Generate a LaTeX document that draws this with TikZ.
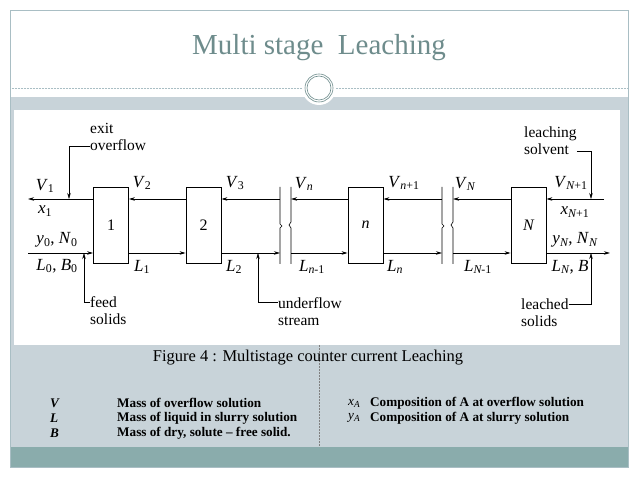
\documentclass[tikz,border=0pt]{standalone}
\usepackage{fontspec}
\setmainfont{Liberation Serif}
\usetikzlibrary{arrows.meta}
\definecolor{panel}{HTML}{C8D3D9}
\definecolor{teal}{HTML}{8AACAC}
\definecolor{titlec}{HTML}{6E8C8C}
\definecolor{frame}{HTML}{A9BEC4}
\newcommand{\vr}[2]{\textit{#1}\textsubscript{#2}}
\begin{document}
\begin{tikzpicture}[x=1pt,y=-1pt,
  box/.style={draw,line width=0.8pt,fill=white,minimum width=35pt,minimum height=76pt,inner sep=0pt,font=\fontsize{16}{16}\selectfont},
  flow/.style={line width=0.8pt,-{Stealth[length=6pt,width=3.5pt]}},
  lead/.style={line width=0.5pt,-{Stealth[length=6pt,width=3.5pt]}},
  lab/.style={font=\fontsize{17}{17}\selectfont,inner sep=0pt},
  txt/.style={font=\fontsize{15.5}{17}\selectfont,inner sep=0pt,align=left},
  leg/.style={font=\fontsize{13.2}{13}\selectfont\bfseries,inner sep=0pt,anchor=west}]
\useasboundingbox (0,0) rectangle (638,478);
\fill[white] (0,0) rectangle (638,478);
\fill[panel] (10,97) rectangle (628,447);
\fill[teal] (10,447) rectangle (628,467);
\draw[frame,line width=0.6pt] (10,10) rectangle (628,467);
\draw[frame,densely dotted,line width=0.5pt] (10,88) -- (628,88);
\fill[white] (14,110) rectangle (620,345);
\draw[gray,densely dotted,line width=0.5pt] (319,345) -- (319,447);
\node[circle,fill=white,minimum size=34pt,inner sep=0pt] (circ) at (319,88) {};
\draw[titlec,line width=0.6pt] (319,88) circle (14);
\draw[titlec,line width=0.6pt] (319,88) circle (12);
\node[text=titlec,font=\fontsize{29}{29}\selectfont] (title) at (319,48) {Multi stage\ \ Leaching};
% boxes
\node[box] (b1) at (111,225) {1};
\node[box] (b2) at (203.5,225) {2};
\node[box] (bn) at (365.5,225) {\itshape n};
\node[box] (bN) at (528.5,225) {\itshape N};
% walls
\coordinate (w1t) at (280,199); \coordinate (w1b) at (280,253);
\coordinate (w2t) at (291,199); \coordinate (w2b) at (291,253);
\coordinate (w3t) at (442,199); \coordinate (w3b) at (442,253);
\coordinate (w4t) at (453,199); \coordinate (w4b) at (453,253);
\draw[line width=0.6pt] (280,187) -- (280,224) -- (282,226) -- (280,228) -- (280,264);
\draw[line width=0.6pt] (291,187) -- (291,222) -- (289,225) -- (291,228) -- (291,264);
\draw[line width=0.6pt] (442,187) -- (442,224) -- (444,226) -- (442,228) -- (442,264);
\draw[line width=0.6pt] (453,187) -- (453,222) -- (451,225) -- (453,228) -- (453,264);
% top flows
\coordinate (vout) at (28,199);
\draw[flow] (b1.west |- vout) -- (vout);
\draw[flow] (b2.west |- w1t) -- (b1.east |- w1t);
\draw[flow] (w1t) -- (b2.east |- w1t);
\draw[flow] (bn.west |- w2t) -- (w2t);
\draw[flow] (w3t) -- (bn.east |- w3t);
\draw[flow] (bN.west |- w4t) -- (w4t);
\coordinate (vin) at (604,199);
\draw[flow] (vin) -- (bN.east |- vin);
% bottom flows
\coordinate (lin) at (28,253);
\draw[flow] (lin) -- (b1.west |- lin);
\draw[flow] (b1.east |- lin) -- (b2.west |- lin);
\draw[flow] (b2.east |- w1b) -- (w1b);
\draw[flow] (w2b) -- (bn.west |- w2b);
\draw[flow] (bn.east |- w3b) -- (w3b);
\draw[flow] (w4b) -- (bN.west |- w4b);
\coordinate (lout) at (610,253);
\draw[flow] (bN.east |- lout) -- (lout);
% leaders
\node[txt,anchor=west] (exit) at (90,137) {exit\\overflow};
\draw[lead] (exit.west |- 0,146) -| (69,199);
\node[txt,anchor=west] (feed) at (90,311) {feed\\solids};
\draw[lead] (feed.west |- 0,302) -| (84,253);
\node[txt,anchor=west] (under) at (278,312) {underflow\\stream};
\draw[lead] (under.west |- 0,302) -| (258,253);
\node[txt,anchor=west] (solv) at (524,141) {leaching\\solvent};
\draw[lead] (solv.east |- 0,151) -| (591,199);
\node[txt,anchor=west] (leach) at (521,313) {leached\\solids};
\draw[lead] (leach.east |- 0,304) -| (591,253);
% labels
\node[lab] (lv1) at (45,186) {\vr{V}{1}};
\node[lab] (lx1) at (45,211) {\vr{x}{1}};
\node[lab] (ly0) at (57,240) {\vr{y}{0}, \vr{N}{0}};
\node[lab] (ll0) at (57,266) {\vr{L}{0}, \vr{B}{0}};
\node[lab] (lv2) at (142,183) {\vr{V}{2}};
\node[lab] (ll1) at (142,267) {\vr{L}{1}};
\node[lab] (lv3) at (235,183) {\vr{V}{3}};
\node[lab] (ll2) at (234,267) {\vr{L}{2}};
\node[lab] (lvn) at (304,184) {\vr{V}{\itshape n}};
\node[lab] (llm) at (312,267) {\vr{L}{\itshape n\upshape{-}1}};
\node[lab] (lvp) at (404,183) {\vr{V}{\itshape n\upshape{+}1}};
\node[lab] (lln) at (395,267) {\vr{L}{\itshape n}};
\node[lab] (lvN) at (465,184) {\vr{V}{\itshape N}};
\node[lab] (llM) at (478,267) {\vr{L}{\itshape N\upshape{-}1}};
\node[lab] (lvP) at (571,183) {\vr{V}{\itshape N\upshape{+}1}};
\node[lab] (lxP) at (575,212) {\vr{x}{\itshape N\upshape{+}1}};
\node[lab] (lyN) at (575,240) {\vr{y}{\itshape N}, \vr{N}{\itshape N}};
\node[lab] (llN) at (570,267) {\vr{L}{\itshape N}, \textit{B}};
% caption and legend
\node[font=\fontsize{16.5}{17}\selectfont] (cap) at (308,358) {Figure 4 : Multistage counter current Leaching};
\node[leg] (k1) at (50,403) {\itshape V};
\node[leg] (k2) at (50,418) {\itshape L};
\node[leg] (k3) at (50,433) {\itshape B};
\node[leg] (d1) at (117,403) {Mass of overflow solution};
\node[leg] (d2) at (117,418) {Mass of liquid in slurry solution};
\node[leg] (d3) at (117,433) {Mass of dry, solute -- free solid.};
\node[leg] (k4) at (348,403) {\mdseries\vr{x}{\itshape A}};
\node[leg] (k5) at (348,418) {\mdseries\vr{y}{\itshape A}};
\node[leg] (d4) at (370,403) {Composition of A at overflow solution};
\node[leg] (d5) at (370,418) {Composition of A at slurry solution};
\end{tikzpicture}
\end{document}
